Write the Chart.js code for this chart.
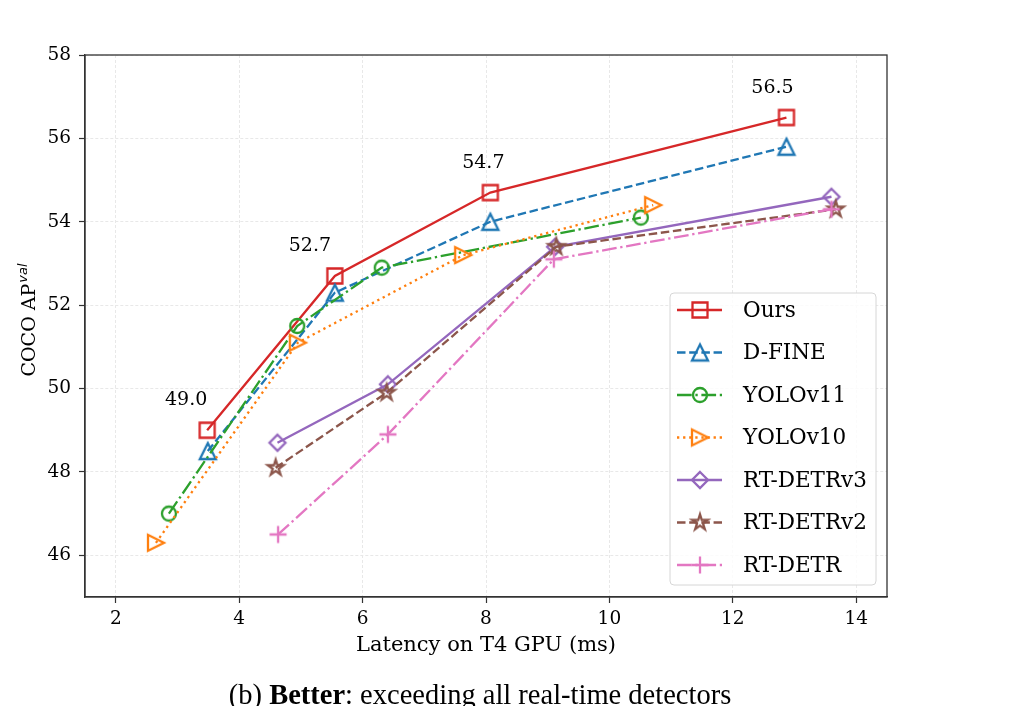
<!DOCTYPE html>
<html><head><meta charset="utf-8">
<script src="https://cdn.jsdelivr.net/npm/chart.js@4/dist/chart.umd.min.js"></script>
<style>html,body{margin:0;padding:0;background:#fff;overflow:hidden}#wrap{width:1013px;height:706px;position:relative}</style>
</head><body><div id="wrap"><canvas id="c" width="1013" height="706"></canvas></div>
<script>
// ---- data ----
const seriesNames = ['Ours','D-FINE','YOLOv11','YOLOv10','RT-DETRv3','RT-DETRv2','RT-DETR'];
const oursX   = [3.48, 5.55, 8.07, 12.87];
const oursY   = [49.0, 52.7, 54.7, 56.5];
const dfineX  = [3.49, 5.55, 8.07, 12.87];
const dfineY  = [48.5, 52.3, 54.0, 55.8];
const yolo11X = [2.86, 4.94, 6.31, 10.51];
const yolo11Y = [47.0, 51.5, 52.9, 54.1];
const yolo10X = [2.65, 4.95, 7.63, 10.71];
const yolo10Y = [46.3, 51.1, 53.2, 54.4];
const rtv3X   = [4.62, 6.41, 9.12, 13.60];
const rtv3Y   = [48.7, 50.1, 53.4, 54.6];
const rtv2X   = [4.59, 6.39, 9.14, 13.67];
const rtv2Y   = [48.1, 49.9, 53.4, 54.3];
const rtX     = [4.63, 6.41, 9.10, 13.60];
const rtY     = [46.5, 48.9, 53.1, 54.3];
const annotLabels = ['49.0','52.7','54.7','56.5'];
const xTicks = [2,4,6,8,10,12,14];
const yTicks = [46,48,50,52,54,56,58];
const xLabel = 'Latency on T4 GPU (ms)';
const yLabel = 'COCO AP';
const yLabelSup = 'val';
const captionParts = [['(b) ', false], ['Better', true], [': exceeding all real-time detectors', false]];

// ---- styles ----
const SERIF = '"DejaVu Serif", serif';
const colors = ['#d62728','#1f77b4','#2ca02c','#ff7f0e','#9467bd','#8c564b','#e377c2'];
const shapes = ['square','tri-up','circle','tri-right','diamond','star','plus'];
const LW = 2.3;
const dashes = [[], [3.7*LW,1.6*LW], [6.4*LW,1.6*LW,1*LW,1.6*LW], [1*LW,1.65*LW], [], [3.7*LW,1.6*LW], [6.4*LW,1.6*LW,1*LW,1.6*LW]];

function marker(shape, color){
  const s = 28, c = s/2;
  const cv = document.createElement('canvas'); cv.width = s; cv.height = s;
  const g = cv.getContext('2d'); g.strokeStyle = color; g.lineWidth = 2.3; g.lineJoin = 'miter'; g.beginPath();
  switch(shape){
    case 'square': g.rect(c-7.5, c-7.5, 15, 15); break;
    case 'tri-up': g.moveTo(c, c-8); g.lineTo(c+8, c+8); g.lineTo(c-8, c+8); g.closePath(); break;
    case 'tri-right': g.moveTo(c+8, c); g.lineTo(c-8, c-8); g.lineTo(c-8, c+8); g.closePath(); break;
    case 'circle': g.arc(c, c, 7, 0, Math.PI*2); break;
    case 'diamond': g.moveTo(c, c-8); g.lineTo(c+8, c); g.lineTo(c, c+8); g.lineTo(c-8, c); g.closePath(); break;
    case 'star': for (let i=0;i<10;i++){ const r = i%2 ? 3.1 : 8.2; const a = -Math.PI/2 + i*Math.PI/5;
        const px = c + r*Math.cos(a), py = c + r*Math.sin(a); if (i) g.lineTo(px,py); else g.moveTo(px,py);} g.closePath(); break;
    case 'plus': g.moveTo(c-8.5, c); g.lineTo(c+8.5, c); g.moveTo(c, c-8.5); g.lineTo(c, c+8.5); break;
  }
  g.stroke(); return cv;
}

const xsAll = [oursX, dfineX, yolo11X, yolo10X, rtv3X, rtv2X, rtX];
const ysAll = [oursY, dfineY, yolo11Y, yolo10Y, rtv3Y, rtv2Y, rtY];
const datasets = seriesNames.map((name, i) => ({
  label: name,
  data: xsAll[i].map((x, j) => ({x: x, y: ysAll[i][j]})),
  borderColor: colors[i], backgroundColor: 'transparent',
  borderWidth: LW, borderDash: dashes[i], borderCapStyle: 'butt',
  pointStyle: marker(shapes[i], colors[i]), pointRadius: 8, pointHoverRadius: 8,
  tension: 0, fill: false, order: seriesNames.length - i
}));

const extras = {
  id: 'extras',
  afterDraw(chart) {
    const ctx = chart.ctx, a = chart.chartArea, xs = chart.scales.x, ys = chart.scales.y;
    ctx.save();
    // frame
    ctx.strokeStyle = '#333'; ctx.lineWidth = 1.3; ctx.setLineDash([]);
    ctx.strokeRect(a.left, a.top, a.right - a.left, a.bottom - a.top);
    // annotations
    const dx = [-21, -25, -7, -14];
    ctx.fillStyle = '#000'; ctx.font = '19px ' + SERIF; ctx.textAlign = 'center'; ctx.textBaseline = 'alphabetic';
    annotLabels.forEach((t, j) => {
      const px = xs.getPixelForValue(oursX[j]), py = ys.getPixelForValue(oursY[j]);
      ctx.fillText(t, px + dx[j], py - 25);
    });
    // legend
    const L = {x: 670, y: 293, w: 206, h: 292, r: 4};
    ctx.beginPath();
    ctx.moveTo(L.x + L.r, L.y); ctx.arcTo(L.x + L.w, L.y, L.x + L.w, L.y + L.h, L.r);
    ctx.arcTo(L.x + L.w, L.y + L.h, L.x, L.y + L.h, L.r); ctx.arcTo(L.x, L.y + L.h, L.x, L.y, L.r);
    ctx.arcTo(L.x, L.y, L.x + L.w, L.y, L.r); ctx.closePath();
    ctx.fillStyle = 'rgba(255,255,255,0.8)'; ctx.fill();
    ctx.strokeStyle = '#d6d6d6'; ctx.lineWidth = 1; ctx.stroke();
    chart.data.datasets.forEach((ds, i) => {
      const ry = 310 + i * 42.5;
      ctx.strokeStyle = ds.borderColor; ctx.lineWidth = LW; ctx.setLineDash(ds.borderDash); ctx.lineCap = 'butt';
      ctx.beginPath(); ctx.moveTo(677, ry); ctx.lineTo(722, ry); ctx.stroke(); ctx.setLineDash([]);
      const m = ds.pointStyle; ctx.drawImage(m, 700 - m.width/2, ry - m.height/2);
      ctx.fillStyle = '#000'; ctx.font = '21.5px ' + SERIF; ctx.textAlign = 'left'; ctx.textBaseline = 'middle';
      ctx.fillText(ds.label, 743, ry + 1);
    });
    // y label
    ctx.save();
    ctx.translate(35, 320); ctx.rotate(-Math.PI/2);
    ctx.font = '19px ' + SERIF; ctx.textBaseline = 'alphabetic'; ctx.textAlign = 'left';
    const w1 = ctx.measureText(yLabel).width;
    ctx.font = 'italic 13px "DejaVu Sans", sans-serif';
    const w2 = ctx.measureText(yLabelSup).width;
    const start = -(w1 + w2 + 1)/2;
    ctx.fillStyle = '#000';
    ctx.font = '19px ' + SERIF; ctx.fillText(yLabel, start, 0);
    ctx.font = 'italic 13px "DejaVu Sans", sans-serif'; ctx.fillText(yLabelSup, start + w1 + 1, -8);
    ctx.restore();
    // caption
    ctx.textBaseline = 'alphabetic'; ctx.textAlign = 'left'; ctx.fillStyle = '#000';
    const fnt = b => (b ? 'bold ' : '') + '28.5px "Liberation Serif", serif';
    let total = 0; captionParts.forEach(([t, b]) => { ctx.font = fnt(b); total += ctx.measureText(t).width; });
    let cx = 480 - total/2;
    captionParts.forEach(([t, b]) => { ctx.font = fnt(b); ctx.fillText(t, cx, 704); cx += ctx.measureText(t).width; });
    ctx.restore();
  }
};

const gridOpts = { color: '#e8e8e8', lineWidth: 1, tickBorderDash: [], tickColor: '#333', tickWidth: 1.2, tickLength: 6, drawTicks: true };
const borderOpts = { display: true, color: '#333', width: 1.3, dash: [3, 2] };

new Chart(document.getElementById('c'), {
  type: 'line',
  data: { datasets },
  options: {
    responsive: false, animation: false, devicePixelRatio: 1,
    layout: { padding: { left: 0, right: 126, top: 55, bottom: 0 } },
    plugins: { legend: { display: false }, tooltip: { enabled: false } },
    scales: {
      x: {
        type: 'linear', min: 1.5, max: 14.5,
        afterFit(s) { s.height = 109; },
        afterBuildTicks(s) { s.ticks = xTicks.map(v => ({value: v})); },
        ticks: { font: { family: SERIF, size: 18.5 }, color: '#000', padding: 5, includeBounds: false },
        grid: gridOpts, border: borderOpts,
        title: { display: true, text: xLabel, color: '#000', font: { family: SERIF, size: 21 }, padding: { top: 0, bottom: 48 } }
      },
      y: {
        type: 'linear', min: 45, max: 58,
        afterFit(s) { s.width = 85; },
        afterBuildTicks(s) { s.ticks = yTicks.map(v => ({value: v})); },
        ticks: { font: { family: SERIF, size: 18.5 }, color: '#000', padding: 8, includeBounds: false },
        grid: gridOpts, border: borderOpts
      }
    }
  },
  plugins: [extras]
});
</script></body></html>
